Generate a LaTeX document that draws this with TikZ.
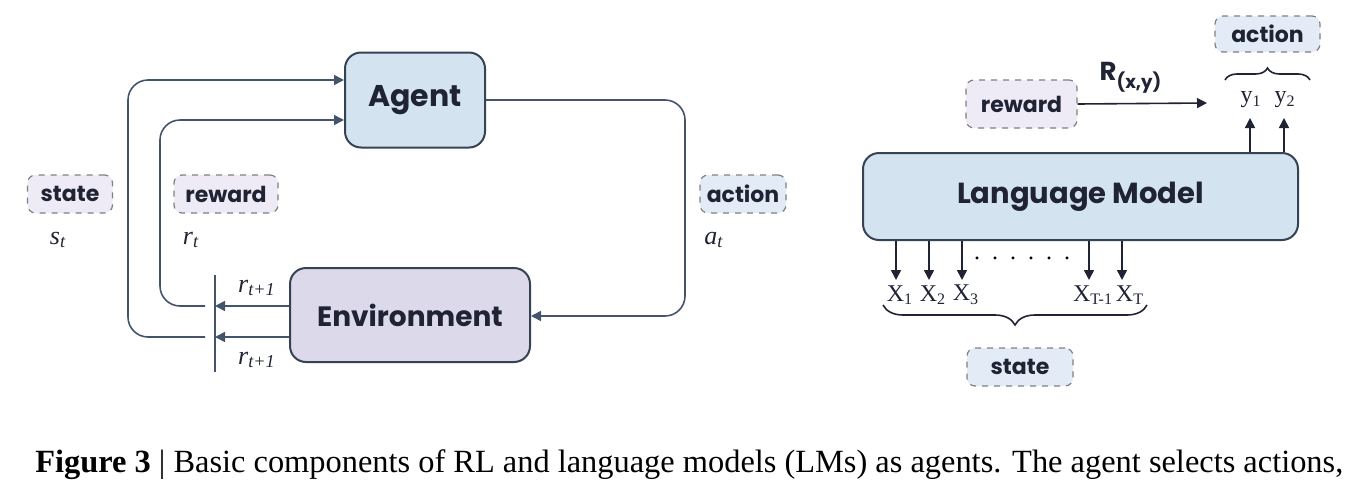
\documentclass[tikz,border=0pt]{standalone}
\usepackage{fontspec}
\setmainfont{Liberation Serif}
\setsansfont{Poppins}
\usetikzlibrary{arrows.meta,decorations.pathreplacing}
\definecolor{ln}{HTML}{44546A}
\definecolor{bluef}{HTML}{D3E4F0}
\definecolor{envf}{HTML}{DCD9EA}
\definecolor{lavf}{HTML}{EEEAF6}
\definecolor{lbf}{HTML}{E3ECF6}
\definecolor{txt}{HTML}{1F2333}
\begin{document}
\begin{tikzpicture}[x=0.5pt,y=-0.5pt,
  big/.style={draw=ln!80!black,line width=1pt,rounded corners=8pt,font=\sffamily\bfseries\fontsize{14}{17}\selectfont,text=txt},
  tag/.style={draw=gray,dashed,line width=0.6pt,rounded corners=4pt,font=\sffamily\bfseries\fontsize{11}{13}\selectfont,text=txt,inner sep=0pt},
  lab/.style={font=\fontsize{13}{15}\selectfont\itshape,text=txt},
  xl/.style={font=\fontsize{12}{14}\selectfont,text=txt,inner sep=1pt},
  con/.style={draw=ln,line width=0.8pt,rounded corners=10pt},
  arr/.style={-{Triangle[length=5pt,width=5pt]}},
  dk/.style={draw=txt,line width=0.8pt,-{Triangle[length=5pt,width=5pt]}}]
\useasboundingbox (0,0) rectangle (1369,493);
% left
\node[big,fill=bluef,minimum width=70pt,minimum height=47.5pt,font=\sffamily\bfseries\fontsize{15}{18}\selectfont] (agent) at (415,100) {Agent};
\node[big,fill=envf,minimum width=120pt,minimum height=47pt] (env) at (410,315) {Environment};
\node[tag,fill=lavf,minimum width=42.5pt,minimum height=19pt] (st) at (70,194) {state};
\node[tag,fill=lavf,minimum width=52pt,minimum height=19pt] (rw) at (226,194) {reward};
\node[tag,fill=lbf,minimum width=43pt,minimum height=19pt] (ac) at (743,194) {action};
\node[lab] (s) at (58,240) {s\textsubscript{t}};
\node[lab] (r) at (191,240) {r\textsubscript{t}};
\node[lab] (a) at (714,240) {a\textsubscript{t}};
\node[lab] (r1) at (257,288) {r\textsubscript{t+1}};
\node[lab] (r2) at (257,360) {r\textsubscript{t+1}};
\coordinate (v1) at (215,275); \coordinate (v2) at (215,372);
\draw[ln,line width=0.8pt] (v1) -- (v2);
\draw[con,arr] (env.west |- 0,306) -- (215,306);
\draw[con,arr] (env.west |- 0,337) -- (215,337);
\draw[con,arr] (205,306) -- (160,306) -- (160,120) -- (agent.west |- 0,120);
\draw[con,arr] (205,337) -- (128,337) -- (128,80) -- (agent.west |- 0,80);
\draw[con,arr] (agent.east |- 0,100) -- (685,100) -- (685,316) -- (env.east |- 0,316);
% right
\node[big,fill=bluef,minimum width=217.5pt,minimum height=43.5pt,font=\sffamily\bfseries\fontsize{14.5}{17}\selectfont] (lm) at (1080.5,196.5) {Language Model};
\node[tag,fill=lavf,minimum width=55.5pt,minimum height=24pt] (rw2) at (1021.5,104) {reward};
\node[tag,fill=lbf,minimum width=52.5pt,minimum height=18pt] (ac2) at (1267.5,34) {action};
\node[tag,fill=lbf,minimum width=53pt,minimum height=19pt] (st2) at (1020,367) {state};
\node[font=\sffamily\bfseries\fontsize{13}{15}\selectfont,text=txt] (R) at (1131,78) {R\textsubscript{(x,y)}};
\coordinate (rt) at (1207,103);
\draw[dk] (rw2.east) -- (rt);
\node[xl] (y1) at (1251,100) {y\textsubscript{1}};
\node[xl] (y2) at (1285,100) {y\textsubscript{2}};
\draw[dk] (lm.north -| 1250,0) -- (1250,118);
\draw[dk] (lm.north -| 1284,0) -- (1284,118);
\draw[txt,line width=0.8pt,decoration={brace,amplitude=6pt},decorate] (1225,80) -- (1310,80);
\foreach \n/\x/\t in {a/896/X\textsubscript{1},b/929/X\textsubscript{2},c/962/X\textsubscript{3},d/1089/X\textsubscript{T-1}}{
  \node[xl] (x\n) at (\x+4,295) {\t};
  \draw[dk] (lm.south -| \x,0) -- (\x,280);
}
\node[xl] (xe) at (1130,295) {X\textsubscript{T}};
\draw[dk] (lm.south -| 1122,0) -- (1122,280);
\node[font=\fontsize{12}{14}\selectfont] (dots) at (1022,258) {.\,\,\,.\,\,\,.\,\,\,.\,\,\,.\,\,\,.};
\draw[txt,line width=0.8pt,decoration={brace,amplitude=10pt},decorate] (1147,305) -- (883,305);
% caption
\node[anchor=west,font=\fontsize{16.2}{19}\selectfont,inner sep=0pt] (cap) at (35,465) {\textbf{Figure 3} | Basic components of RL and language models (LMs) as agents. The agent selects actions,};
\end{tikzpicture}
\end{document}
